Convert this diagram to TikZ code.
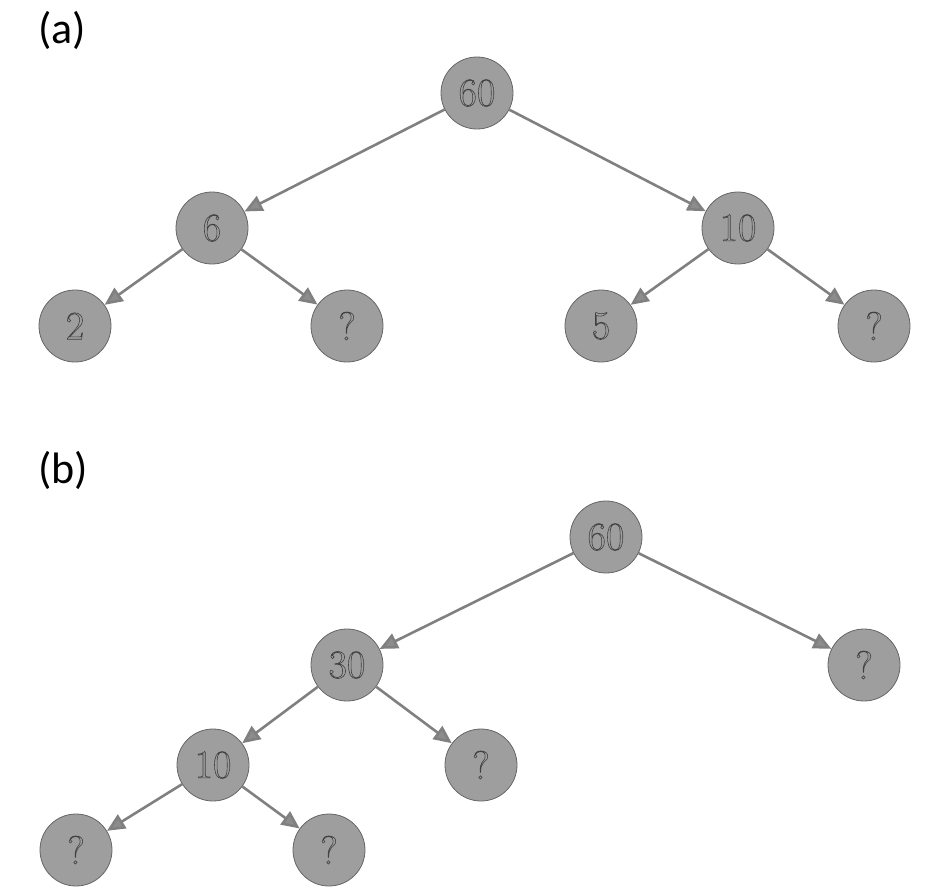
\documentclass[tikz,border=0pt]{standalone}
\usepackage{fontspec}
\newfontfamily\lblfont{Carlito}
\usetikzlibrary{arrows.meta}
\newcommand{\hollow}[1]{\special{pdf:literal direct 1 Tr 0.6 w}#1\special{pdf:literal direct 0 Tr}}
\tikzset{
  nd/.style={circle,draw=black!60,fill=black!38,line width=0.8pt,minimum size=72pt,inner sep=0pt,font=\fontsize{40}{40}\selectfont,text=black!75},
  ed/.style={draw=black!50,line width=2.6pt,-{Triangle[length=18pt,width=16pt,fill=black!45]}},
  lb/.style={font=\lblfont\fontsize{44}{44}\selectfont,anchor=west}
}
\begin{document}
\begin{tikzpicture}[x=1pt,y=-1pt]
\useasboundingbox (0,0) rectangle (943,895);
\node[lb] (la) at (35,30) {(a)};
\node[lb] (lb2) at (35,470) {(b)};
\node[nd] (a1) at (477,93) {\hollow{60}};
\node[nd] (a2) at (212,228) {\hollow{6}};
\node[nd] (a3) at (738,228) {\hollow{10}};
\node[nd] (a4) at (75,326) {\hollow{2}};
\node[nd] (a5) at (347,326) {\hollow{?}};
\node[nd] (a6) at (601,326) {\hollow{5}};
\node[nd] (a7) at (874,326) {\hollow{?}};
\draw[ed] (a1) -- (a2); \draw[ed] (a1) -- (a3);
\draw[ed] (a2) -- (a4); \draw[ed] (a2) -- (a5);
\draw[ed] (a3) -- (a6); \draw[ed] (a3) -- (a7);
\node[nd] (b1) at (606,537) {\hollow{60}};
\node[nd] (b2) at (347,665) {\hollow{30}};
\node[nd] (b3) at (864,665) {\hollow{?}};
\node[nd] (b4) at (213,765) {\hollow{10}};
\node[nd] (b5) at (481,765) {\hollow{?}};
\node[nd] (b6) at (76,850) {\hollow{?}};
\node[nd] (b7) at (329,850) {\hollow{?}};
\draw[ed] (b1) -- (b2); \draw[ed] (b1) -- (b3);
\draw[ed] (b2) -- (b4); \draw[ed] (b2) -- (b5);
\draw[ed] (b4) -- (b6); \draw[ed] (b4) -- (b7);
\end{tikzpicture}
\end{document}
